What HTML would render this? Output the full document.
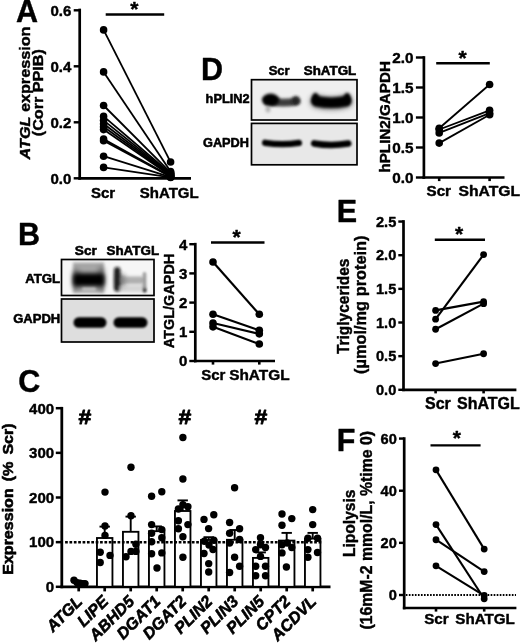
<!DOCTYPE html>
<html lang="en"><head><meta charset="utf-8"><title>Figure</title>
<style>html,body{margin:0;padding:0;background:#fff}body{width:520px;height:644px;overflow:hidden}svg{display:block;filter:blur(0.35px)}</style>
</head><body>
<svg width="520" height="644" viewBox="0 0 520 644" font-family='"Liberation Sans", sans-serif' font-weight="bold" fill="#000" stroke="#000" stroke-linecap="butt">
<defs><filter id="b1" filterUnits="userSpaceOnUse" x="0" y="0" width="520" height="644"><feGaussianBlur stdDeviation="1.6"/></filter><filter id="b2" filterUnits="userSpaceOnUse" x="0" y="0" width="520" height="644"><feGaussianBlur stdDeviation="2.6"/></filter><filter id="b4" filterUnits="userSpaceOnUse" x="0" y="0" width="520" height="644"><feGaussianBlur stdDeviation="1.9"/></filter><filter id="b3" filterUnits="userSpaceOnUse" x="0" y="0" width="520" height="644"><feGaussianBlur stdDeviation="1.1"/></filter><clipPath id="cB1"><rect x="61.5" y="259.5" width="92.5" height="36"/></clipPath><clipPath id="cB2"><rect x="61.5" y="299" width="92.5" height="43"/></clipPath><clipPath id="cD1"><rect x="251.5" y="79.7" width="105.5" height="40.3"/></clipPath><clipPath id="cD2"><rect x="251.5" y="123.4" width="105.5" height="41.4"/></clipPath></defs>
<rect x="0" y="0" width="520" height="644" fill="#fff" stroke="none"/>
<style>text{stroke:#000;stroke-width:0.42px;stroke-linejoin:round}circle{stroke:none}</style>
<text x="15.9" y="22.3" font-size="30.5" text-anchor="start">A</text>
<text x="18.0" y="245.3" font-size="30.5" text-anchor="start">B</text>
<text x="18.3" y="392.0" font-size="30.5" text-anchor="start">C</text>
<text x="201.0" y="79.7" font-size="30.5" text-anchor="start">D</text>
<text x="336.8" y="221.9" font-size="30.5" text-anchor="start">E</text>
<text x="336.7" y="451.2" font-size="30.5" text-anchor="start">F</text>
<line x1="79.7" y1="8.65" x2="79.7" y2="179.65" stroke-width="2.7" />
<line x1="78.35000000000001" y1="178.3" x2="191" y2="178.3" stroke-width="2.7" />
<line x1="73.7" y1="10.300000000000011" x2="79.7" y2="10.300000000000011" stroke-width="2.43" />
<text x="71.3" y="15.7" font-size="15" text-anchor="end">0.6</text>
<line x1="73.7" y1="66.30000000000001" x2="79.7" y2="66.30000000000001" stroke-width="2.43" />
<text x="71.3" y="71.7" font-size="15" text-anchor="end">0.4</text>
<line x1="73.7" y1="122.30000000000001" x2="79.7" y2="122.30000000000001" stroke-width="2.43" />
<text x="71.3" y="127.7" font-size="15" text-anchor="end">0.2</text>
<line x1="73.7" y1="178.3" x2="79.7" y2="178.3" stroke-width="2.43" />
<text x="71.3" y="183.7" font-size="15" text-anchor="end">0.0</text>
<line x1="103.6" y1="29.9" x2="170.6" y2="162.06" stroke-width="1.8" />
<line x1="103.6" y1="71.9" x2="170.6" y2="171.58" stroke-width="1.8" />
<line x1="103.6" y1="105.5" x2="170.6" y2="172.7" stroke-width="1.8" />
<line x1="103.6" y1="116.42" x2="170.6" y2="173.54" stroke-width="1.8" />
<line x1="103.6" y1="120.34" x2="170.6" y2="174.1" stroke-width="1.8" />
<line x1="103.6" y1="123.7" x2="170.6" y2="174.66" stroke-width="1.8" />
<line x1="103.6" y1="126.78" x2="170.6" y2="175.22" stroke-width="1.8" />
<line x1="103.6" y1="129.58" x2="170.6" y2="175.78" stroke-width="1.8" />
<line x1="103.6" y1="139.1" x2="170.6" y2="176.34" stroke-width="1.8" />
<line x1="103.6" y1="140.78" x2="170.6" y2="176.62" stroke-width="1.8" />
<line x1="103.6" y1="156.18" x2="170.6" y2="177.18" stroke-width="1.8" />
<line x1="103.6" y1="167.38" x2="170.6" y2="177.46" stroke-width="1.8" />
<circle cx="103.60" cy="29.90" r="3.8"/>
<circle cx="170.60" cy="162.06" r="3.8"/>
<circle cx="103.60" cy="71.90" r="3.8"/>
<circle cx="170.60" cy="171.58" r="3.8"/>
<circle cx="103.60" cy="105.50" r="3.8"/>
<circle cx="170.60" cy="172.70" r="3.8"/>
<circle cx="103.60" cy="116.42" r="3.8"/>
<circle cx="170.60" cy="173.54" r="3.8"/>
<circle cx="103.60" cy="120.34" r="3.8"/>
<circle cx="170.60" cy="174.10" r="3.8"/>
<circle cx="103.60" cy="123.70" r="3.8"/>
<circle cx="170.60" cy="174.66" r="3.8"/>
<circle cx="103.60" cy="126.78" r="3.8"/>
<circle cx="170.60" cy="175.22" r="3.8"/>
<circle cx="103.60" cy="129.58" r="3.8"/>
<circle cx="170.60" cy="175.78" r="3.8"/>
<circle cx="103.60" cy="139.10" r="3.8"/>
<circle cx="170.60" cy="176.34" r="3.8"/>
<circle cx="103.60" cy="140.78" r="3.8"/>
<circle cx="170.60" cy="176.62" r="3.8"/>
<circle cx="103.60" cy="156.18" r="3.8"/>
<circle cx="170.60" cy="177.18" r="3.8"/>
<circle cx="103.60" cy="167.38" r="3.8"/>
<circle cx="170.60" cy="177.46" r="3.8"/>
<line x1="105.7" y1="14.5" x2="164.2" y2="14.5" stroke-width="2.4" />
<text x="134.4" y="15.6" font-size="21" text-anchor="middle">*</text>
<text x="103.0" y="197.6" font-size="15" text-anchor="middle">Scr</text>
<text x="169.2" y="197.6" font-size="15" text-anchor="middle">ShATGL</text>
<text x="30.2" y="93.0" font-size="14.7" text-anchor="middle" textLength="133" lengthAdjust="spacingAndGlyphs" transform="rotate(-90 30.2 93.0)"><tspan font-style="italic">ATGL</tspan> expression</text>
<text x="43.0" y="92.7" font-size="14.7" text-anchor="middle" textLength="87" lengthAdjust="spacingAndGlyphs" transform="rotate(-90 43.0 92.7)">(Corr PPIB)</text>
<text x="85.8" y="255.3" font-size="13.7" text-anchor="middle" textLength="22" lengthAdjust="spacingAndGlyphs" style="stroke-width:0.55px">Scr</text>
<text x="132.8" y="255.3" font-size="13.7" text-anchor="middle" textLength="52.6" lengthAdjust="spacingAndGlyphs" style="stroke-width:0.55px">ShATGL</text>
<text x="60.2" y="283.0" font-size="13" text-anchor="end" textLength="35" lengthAdjust="spacingAndGlyphs" style="stroke-width:0.55px">ATGL</text>
<text x="60.2" y="323.0" font-size="13" text-anchor="end" textLength="47" lengthAdjust="spacingAndGlyphs" style="stroke-width:0.55px">GAPDH</text>
<rect x="61.5" y="259.5" width="92.5" height="36" fill="#f6f6f6" stroke="none"/>
<g clip-path="url(#cB1)" stroke="none"><rect x="73" y="262.5" width="31" height="30.5" fill="#707070" opacity="0.6" filter="url(#b1)"/><rect x="72.5" y="269" width="7" height="21" rx="3" fill="#000" opacity="0.32" filter="url(#b2)"/><rect x="98" y="267" width="7" height="24" rx="3" fill="#000" opacity="0.32" filter="url(#b2)"/><rect x="73" y="273.2" width="31.5" height="13" rx="4" fill="#000" filter="url(#b4)"/><rect x="82" y="287.6" width="14" height="3" rx="1.5" fill="#eee" opacity="0.5" filter="url(#b3)"/><rect x="114" y="267" width="6.4" height="24.5" rx="3.2" fill="#0c0c0c" opacity="0.92" filter="url(#b1)"/><rect x="116" y="274" width="9" height="13" rx="4" fill="#222" opacity="0.55" filter="url(#b2)"/><rect x="120" y="276.4" width="24" height="7.6" rx="3" fill="#808080" opacity="0.6" filter="url(#b1)"/><rect x="118" y="285" width="28" height="7" rx="3" fill="#b4b4b4" opacity="0.5" filter="url(#b1)"/><rect x="142.6" y="272" width="3.8" height="20" rx="1.9" fill="#808080" opacity="0.7" filter="url(#b3)"/><ellipse cx="144.8" cy="290.4" rx="1.8" ry="2.2" fill="#333" opacity="0.8" filter="url(#b3)"/></g>
<rect x="61.5" y="259.5" width="92.5" height="36" fill="none" stroke-width="1.7"/>
<rect x="61.5" y="299" width="92.5" height="43" fill="#dedede" stroke="none"/>
<g clip-path="url(#cB2)" stroke="none"><rect x="73.5" y="317.2" width="33" height="10.6" rx="5.3" fill="#000" filter="url(#b3)"/><rect x="113.5" y="317.2" width="34" height="10.6" rx="5.3" fill="#000" filter="url(#b3)"/></g>
<rect x="61.5" y="299" width="92.5" height="43" fill="none" stroke-width="1.7"/>
<line x1="195.3" y1="242.85" x2="195.3" y2="362.35" stroke-width="2.7" />
<line x1="193.95000000000002" y1="361.0" x2="275" y2="361.0" stroke-width="2.7" />
<line x1="189.3" y1="244.2" x2="195.3" y2="244.2" stroke-width="2.43" />
<text x="187.3" y="249.6" font-size="15" text-anchor="end">4</text>
<line x1="189.3" y1="273.4" x2="195.3" y2="273.4" stroke-width="2.43" />
<text x="187.3" y="278.8" font-size="15" text-anchor="end">3</text>
<line x1="189.3" y1="302.6" x2="195.3" y2="302.6" stroke-width="2.43" />
<text x="187.3" y="308.0" font-size="15" text-anchor="end">2</text>
<line x1="189.3" y1="331.8" x2="195.3" y2="331.8" stroke-width="2.43" />
<text x="187.3" y="337.2" font-size="15" text-anchor="end">1</text>
<line x1="189.3" y1="361.0" x2="195.3" y2="361.0" stroke-width="2.43" />
<text x="187.3" y="366.4" font-size="15" text-anchor="end">0</text>
<line x1="213.0" y1="361.0" x2="213.0" y2="364.6" stroke-width="2.6" />
<line x1="259.3" y1="361.0" x2="259.3" y2="364.6" stroke-width="2.6" />
<line x1="213.0" y1="262.01" x2="259.3" y2="314.28" stroke-width="2.2" />
<line x1="213.0" y1="314.28" x2="259.3" y2="330.34" stroke-width="2.2" />
<line x1="213.0" y1="323.04" x2="259.3" y2="333.84" stroke-width="2.2" />
<line x1="213.0" y1="326.84" x2="259.3" y2="344.06" stroke-width="2.2" />
<circle cx="213.00" cy="262.01" r="3.8"/>
<circle cx="259.30" cy="314.28" r="3.8"/>
<circle cx="213.00" cy="314.28" r="3.8"/>
<circle cx="259.30" cy="330.34" r="3.8"/>
<circle cx="213.00" cy="323.04" r="3.8"/>
<circle cx="259.30" cy="333.84" r="3.8"/>
<circle cx="213.00" cy="326.84" r="3.8"/>
<circle cx="259.30" cy="344.06" r="3.8"/>
<line x1="211" y1="242.5" x2="264.5" y2="242.5" stroke-width="2.4" />
<text x="236.5" y="244.0" font-size="21" text-anchor="middle">*</text>
<text x="213.3" y="379.6" font-size="15" text-anchor="middle">Scr</text>
<text x="259.4" y="379.6" font-size="15" text-anchor="middle" textLength="60.4" lengthAdjust="spacingAndGlyphs">ShATGL</text>
<text x="174.3" y="301.0" font-size="14.3" text-anchor="middle" textLength="94.6" lengthAdjust="spacingAndGlyphs" transform="rotate(-90 174.3 301.0)">ATGL/GAPDH</text>
<text x="279.2" y="74.6" font-size="13" text-anchor="middle" textLength="21" lengthAdjust="spacingAndGlyphs" style="stroke-width:0.55px">Scr</text>
<text x="330.0" y="74.6" font-size="13" text-anchor="middle" textLength="52.5" lengthAdjust="spacingAndGlyphs" style="stroke-width:0.55px">ShATGL</text>
<text x="249.6" y="102.6" font-size="13" text-anchor="end" textLength="44" lengthAdjust="spacingAndGlyphs" style="stroke-width:0.55px">hPLIN2</text>
<text x="249.0" y="147.2" font-size="13" text-anchor="end" textLength="46" lengthAdjust="spacingAndGlyphs" style="stroke-width:0.55px">GAPDH</text>
<rect x="251.5" y="79.7" width="105.5" height="40.3" fill="#efefef" stroke="none"/>
<g clip-path="url(#cD1)" fill="none" stroke-linecap="round"><path d="M268,101.2 Q284,104.2 296.6,101.2" stroke="#3a3a3a" stroke-width="7.8" filter="url(#b1)"/><ellipse cx="295.6" cy="100.6" rx="3.6" ry="4.6" fill="#1a1a1a" stroke="none" opacity="0.8" filter="url(#b1)"/><ellipse cx="270.6" cy="99.8" rx="8.6" ry="6.2" fill="#000" stroke="none" filter="url(#b1)"/><ellipse cx="268" cy="109" rx="2.4" ry="3.5" fill="#888" stroke="none" opacity="0.6" filter="url(#b1)"/><path d="M316.5,101.4 Q331,105.4 346,101.4" stroke="#444" stroke-width="13.5" opacity="0.55" filter="url(#b2)"/><path d="M316.5,101.2 Q331,104.2 346,101.2" stroke="#000" stroke-width="10.6" filter="url(#b1)"/><ellipse cx="315.4" cy="98.4" rx="3.4" ry="5.6" fill="#000" stroke="none" filter="url(#b1)"/><ellipse cx="347.2" cy="98.4" rx="3.4" ry="5.6" fill="#000" stroke="none" filter="url(#b1)"/></g>
<rect x="251.5" y="79.7" width="105.5" height="40.3" fill="none" stroke-width="1.7"/>
<rect x="251.5" y="123.4" width="105.5" height="41.4" fill="#e8e8e8" stroke="none"/>
<g clip-path="url(#cD2)" fill="none" stroke-linecap="round"><path d="M265.2,142.8 Q282,145.4 298.8,142.9" stroke="#050505" stroke-width="6.4" filter="url(#b3)"/><path d="M314.2,143.4 Q331,146.4 348.2,143.5" stroke="#050505" stroke-width="6.6" filter="url(#b3)"/></g>
<rect x="251.5" y="123.4" width="105.5" height="41.4" fill="none" stroke-width="1.7"/>
<line x1="423.9" y1="56.15" x2="423.9" y2="178.85" stroke-width="2.7" />
<line x1="422.54999999999995" y1="177.5" x2="504.5" y2="177.5" stroke-width="2.7" />
<line x1="415.9" y1="57.5" x2="423.9" y2="57.5" stroke-width="2.43" />
<text x="413.5" y="63.01" font-size="15.3" text-anchor="end">2.0</text>
<line x1="415.9" y1="87.5" x2="423.9" y2="87.5" stroke-width="2.43" />
<text x="413.5" y="93.01" font-size="15.3" text-anchor="end">1.5</text>
<line x1="415.9" y1="117.5" x2="423.9" y2="117.5" stroke-width="2.43" />
<text x="413.5" y="123.01" font-size="15.3" text-anchor="end">1.0</text>
<line x1="415.9" y1="147.5" x2="423.9" y2="147.5" stroke-width="2.43" />
<text x="413.5" y="153.01" font-size="15.3" text-anchor="end">0.5</text>
<line x1="415.9" y1="177.5" x2="423.9" y2="177.5" stroke-width="2.43" />
<text x="413.5" y="183.01" font-size="15.3" text-anchor="end">0.0</text>
<line x1="439.2" y1="177.5" x2="439.2" y2="181.1" stroke-width="2.6" />
<line x1="489.6" y1="177.5" x2="489.6" y2="181.1" stroke-width="2.6" />
<line x1="439.2" y1="128.3" x2="489.6" y2="84.5" stroke-width="1.85" />
<line x1="439.2" y1="129.5" x2="489.6" y2="110.3" stroke-width="1.85" />
<line x1="439.2" y1="132.98" x2="489.6" y2="113.18" stroke-width="1.85" />
<line x1="439.2" y1="143.12" x2="489.6" y2="114.8" stroke-width="1.85" />
<circle cx="439.20" cy="128.30" r="3.8"/>
<circle cx="489.60" cy="84.50" r="3.8"/>
<circle cx="439.20" cy="129.50" r="3.8"/>
<circle cx="489.60" cy="110.30" r="3.8"/>
<circle cx="439.20" cy="132.98" r="3.8"/>
<circle cx="489.60" cy="113.18" r="3.8"/>
<circle cx="439.20" cy="143.12" r="3.8"/>
<circle cx="489.60" cy="114.80" r="3.8"/>
<line x1="436.2" y1="63.2" x2="489.8" y2="63.2" stroke-width="2.4" />
<text x="462.6" y="64.6" font-size="21" text-anchor="middle">*</text>
<text x="438.8" y="196.3" font-size="15.2" text-anchor="middle">Scr</text>
<text x="458.4" y="196.3" font-size="15.2" text-anchor="start" textLength="61.8" lengthAdjust="spacingAndGlyphs">ShATGL</text>
<text x="389.6" y="116.8" font-size="14.2" text-anchor="middle" textLength="111.6" lengthAdjust="spacingAndGlyphs" transform="rotate(-90 389.6 116.8)">hPLIN2/GAPDH</text>
<line x1="403.5" y1="220.15" x2="403.5" y2="391.15000000000003" stroke-width="2.7" />
<line x1="402.15" y1="389.8" x2="516.4" y2="389.8" stroke-width="2.7" />
<line x1="398.3" y1="221.55" x2="403.5" y2="221.55" stroke-width="2.43" />
<text x="396.3" y="226.81" font-size="14.6" text-anchor="end">2.5</text>
<line x1="398.3" y1="255.20000000000002" x2="403.5" y2="255.20000000000002" stroke-width="2.43" />
<text x="396.3" y="260.46" font-size="14.6" text-anchor="end">2.0</text>
<line x1="398.3" y1="288.85" x2="403.5" y2="288.85" stroke-width="2.43" />
<text x="396.3" y="294.11" font-size="14.6" text-anchor="end">1.5</text>
<line x1="398.3" y1="322.5" x2="403.5" y2="322.5" stroke-width="2.43" />
<text x="396.3" y="327.76" font-size="14.6" text-anchor="end">1.0</text>
<line x1="398.3" y1="356.15000000000003" x2="403.5" y2="356.15000000000003" stroke-width="2.43" />
<text x="396.3" y="361.41" font-size="14.6" text-anchor="end">0.5</text>
<line x1="398.3" y1="389.8" x2="403.5" y2="389.8" stroke-width="2.43" />
<text x="396.3" y="395.06" font-size="14.6" text-anchor="end">0.0</text>
<line x1="435.6" y1="389.8" x2="435.6" y2="393.40000000000003" stroke-width="2.6" />
<line x1="483.6" y1="389.8" x2="483.6" y2="393.40000000000003" stroke-width="2.6" />
<line x1="435.6" y1="310.39" x2="483.6" y2="301.64" stroke-width="2.15" />
<line x1="435.6" y1="319.13" x2="483.6" y2="254.53" stroke-width="2.15" />
<line x1="435.6" y1="329.23" x2="483.6" y2="303.66" stroke-width="2.15" />
<line x1="435.6" y1="363.55" x2="483.6" y2="353.73" stroke-width="2.15" />
<circle cx="435.60" cy="310.39" r="3.4"/>
<circle cx="483.60" cy="301.64" r="3.4"/>
<circle cx="435.60" cy="319.13" r="3.4"/>
<circle cx="483.60" cy="254.53" r="3.4"/>
<circle cx="435.60" cy="329.23" r="3.4"/>
<circle cx="483.60" cy="303.66" r="3.4"/>
<circle cx="435.60" cy="363.55" r="3.4"/>
<circle cx="483.60" cy="353.73" r="3.4"/>
<line x1="434.8" y1="239.7" x2="485" y2="239.7" stroke-width="2.4" />
<text x="459.2" y="240.8" font-size="21" text-anchor="middle">*</text>
<text x="437.9" y="408.7" font-size="16" text-anchor="middle">Scr</text>
<text x="457.0" y="408.7" font-size="16" text-anchor="start">ShATGL</text>
<text x="349.4" y="306.3" font-size="15.8" text-anchor="middle" textLength="95.5" lengthAdjust="spacingAndGlyphs" transform="rotate(-90 349.4 306.3)">Triglycerides</text>
<text x="366.4" y="304.7" font-size="15.8" text-anchor="middle" textLength="138.5" lengthAdjust="spacingAndGlyphs" transform="rotate(-90 366.4 304.7)">(µmol/mg protein)</text>
<line x1="404.2" y1="437.25" x2="404.2" y2="609.35" stroke-width="2.7" />
<line x1="402.84999999999997" y1="608.0" x2="516.4" y2="608.0" stroke-width="2.7" />
<line x1="399.0" y1="438.58" x2="404.2" y2="438.58" stroke-width="2.43" />
<text x="396.8" y="443.84" font-size="14.6" text-anchor="end">60</text>
<line x1="399.0" y1="490.72" x2="404.2" y2="490.72" stroke-width="2.43" />
<text x="396.8" y="495.98" font-size="14.6" text-anchor="end">40</text>
<line x1="399.0" y1="542.86" x2="404.2" y2="542.86" stroke-width="2.43" />
<text x="396.8" y="548.12" font-size="14.6" text-anchor="end">20</text>
<line x1="399.0" y1="595.0" x2="404.2" y2="595.0" stroke-width="2.43" />
<text x="396.8" y="600.26" font-size="14.6" text-anchor="end">0</text>
<line x1="436.0" y1="608.0" x2="436.0" y2="611.6" stroke-width="2.6" />
<line x1="484.2" y1="608.0" x2="484.2" y2="611.6" stroke-width="2.6" />
<line x1="405.8" y1="595.0" x2="516" y2="595.0" stroke-width="2.1" stroke-dasharray="1.65 1.38"/>
<line x1="436.0" y1="469.86" x2="484.2" y2="549.12" stroke-width="2.1" />
<line x1="436.0" y1="524.61" x2="484.2" y2="598.78" stroke-width="2.1" />
<line x1="436.0" y1="539.73" x2="484.2" y2="571.54" stroke-width="2.1" />
<line x1="436.0" y1="565.8" x2="484.2" y2="595.52" stroke-width="2.1" />
<circle cx="436.00" cy="469.86" r="3.4"/>
<circle cx="484.20" cy="549.12" r="3.4"/>
<circle cx="436.00" cy="524.61" r="3.4"/>
<circle cx="484.20" cy="598.78" r="3.4"/>
<circle cx="436.00" cy="539.73" r="3.4"/>
<circle cx="484.20" cy="571.54" r="3.4"/>
<circle cx="436.00" cy="565.80" r="3.4"/>
<circle cx="484.20" cy="595.52" r="3.4"/>
<line x1="430.5" y1="445.4" x2="480.6" y2="445.4" stroke-width="2.4" />
<text x="456.8" y="445.2" font-size="21" text-anchor="middle">*</text>
<text x="436.4" y="624.4" font-size="15.2" text-anchor="middle">Scr</text>
<text x="485.1" y="624.4" font-size="15.2" text-anchor="middle">ShATGL</text>
<text x="354.9" y="523.3" font-size="15.6" text-anchor="middle" textLength="67.6" lengthAdjust="spacingAndGlyphs" transform="rotate(-90 354.9 523.3)">Lipolysis</text>
<text x="372.2" y="530.3" font-size="15.6" text-anchor="middle" textLength="198.6" lengthAdjust="spacingAndGlyphs" transform="rotate(-90 372.2 530.3)">(16mM-2 mmol/L, %time 0)</text>
<line x1="61.8" y1="406.9" x2="61.8" y2="588.1999999999999" stroke-width="2.8" />
<line x1="60.4" y1="586.8" x2="330.5" y2="586.8" stroke-width="2.8" />
<line x1="55.8" y1="408.19999999999993" x2="61.8" y2="408.19999999999993" stroke-width="2.5" />
<text x="54.099999999999994" y="413.5" font-size="15" text-anchor="end">400</text>
<line x1="55.8" y1="452.84999999999997" x2="61.8" y2="452.84999999999997" stroke-width="2.5" />
<text x="54.099999999999994" y="458.15" font-size="15" text-anchor="end">300</text>
<line x1="55.8" y1="497.49999999999994" x2="61.8" y2="497.49999999999994" stroke-width="2.5" />
<text x="54.099999999999994" y="502.8" font-size="15" text-anchor="end">200</text>
<line x1="55.8" y1="542.15" x2="61.8" y2="542.15" stroke-width="2.5" />
<text x="54.099999999999994" y="547.45" font-size="15" text-anchor="end">100</text>
<line x1="55.8" y1="586.8" x2="61.8" y2="586.8" stroke-width="2.5" />
<text x="54.099999999999994" y="592.1" font-size="15" text-anchor="end">0</text>
<line x1="78.7" y1="586.8" x2="78.7" y2="591.4" stroke-width="2.7" />
<line x1="104.7" y1="586.8" x2="104.7" y2="591.4" stroke-width="2.7" />
<line x1="130.7" y1="586.8" x2="130.7" y2="591.4" stroke-width="2.7" />
<line x1="156.7" y1="586.8" x2="156.7" y2="591.4" stroke-width="2.7" />
<line x1="182.7" y1="586.8" x2="182.7" y2="591.4" stroke-width="2.7" />
<line x1="208.7" y1="586.8" x2="208.7" y2="591.4" stroke-width="2.7" />
<line x1="234.7" y1="586.8" x2="234.7" y2="591.4" stroke-width="2.7" />
<line x1="260.7" y1="586.8" x2="260.7" y2="591.4" stroke-width="2.7" />
<line x1="286.7" y1="586.8" x2="286.7" y2="591.4" stroke-width="2.7" />
<line x1="312.7" y1="586.8" x2="312.7" y2="591.4" stroke-width="2.7" />
<rect x="96.95" y="538.0" width="15.5" height="48.80" fill="#fff" stroke-width="1.85"/>
<line x1="104.7" y1="526.6" x2="104.7" y2="538.0" stroke-width="1.9" />
<line x1="99.5" y1="526.6" x2="109.9" y2="526.6" stroke-width="1.9" />
<rect x="122.95" y="531.8" width="15.5" height="55.00" fill="#fff" stroke-width="1.85"/>
<line x1="130.7" y1="516.6" x2="130.7" y2="531.8" stroke-width="1.9" />
<line x1="125.49999999999999" y1="516.6" x2="135.89999999999998" y2="516.6" stroke-width="1.9" />
<rect x="148.95" y="531.2" width="15.5" height="55.60" fill="#fff" stroke-width="1.85"/>
<line x1="156.7" y1="526.4" x2="156.7" y2="531.2" stroke-width="1.9" />
<line x1="151.5" y1="526.4" x2="161.89999999999998" y2="526.4" stroke-width="1.9" />
<rect x="174.95" y="511.0" width="15.5" height="75.80" fill="#fff" stroke-width="1.85"/>
<line x1="182.7" y1="500.4" x2="182.7" y2="511.0" stroke-width="1.9" />
<line x1="177.5" y1="500.4" x2="187.89999999999998" y2="500.4" stroke-width="1.9" />
<rect x="200.95" y="540.0" width="15.5" height="46.80" fill="#fff" stroke-width="1.85"/>
<line x1="208.7" y1="537.2" x2="208.7" y2="540.0" stroke-width="1.9" />
<line x1="203.5" y1="537.2" x2="213.89999999999998" y2="537.2" stroke-width="1.9" />
<rect x="226.95" y="539.8" width="15.5" height="47.00" fill="#fff" stroke-width="1.85"/>
<line x1="234.7" y1="530.0" x2="234.7" y2="539.8" stroke-width="1.9" />
<line x1="229.5" y1="530.0" x2="239.89999999999998" y2="530.0" stroke-width="1.9" />
<rect x="252.95" y="557.9" width="15.5" height="28.90" fill="#fff" stroke-width="1.85"/>
<line x1="260.7" y1="552.4" x2="260.7" y2="557.9" stroke-width="1.9" />
<line x1="255.5" y1="552.4" x2="265.9" y2="552.4" stroke-width="1.9" />
<rect x="278.95" y="540.6" width="15.5" height="46.20" fill="#fff" stroke-width="1.85"/>
<line x1="286.7" y1="532.9" x2="286.7" y2="540.6" stroke-width="1.9" />
<line x1="281.5" y1="532.9" x2="291.9" y2="532.9" stroke-width="1.9" />
<rect x="304.95" y="538.6" width="15.5" height="48.20" fill="#fff" stroke-width="1.85"/>
<line x1="312.7" y1="532.9" x2="312.7" y2="538.6" stroke-width="1.9" />
<line x1="307.5" y1="532.9" x2="317.9" y2="532.9" stroke-width="1.9" />
<line x1="65.1" y1="542.2" x2="322.5" y2="542.2" stroke-width="2.6" stroke-dasharray="2.7 1.67"/>
<circle cx="74.00" cy="580.20" r="3.7"/>
<circle cx="77.00" cy="582.60" r="3.7"/>
<circle cx="80.00" cy="583.20" r="3.7"/>
<circle cx="82.80" cy="583.60" r="3.7"/>
<circle cx="85.00" cy="583.60" r="3.7"/>
<circle cx="105.00" cy="492.10" r="3.7"/>
<circle cx="105.00" cy="526.00" r="3.7"/>
<circle cx="105.00" cy="535.40" r="3.7"/>
<circle cx="100.20" cy="552.30" r="3.7"/>
<circle cx="110.00" cy="555.40" r="3.7"/>
<circle cx="100.20" cy="562.50" r="3.7"/>
<circle cx="131.00" cy="467.20" r="3.7"/>
<circle cx="131.00" cy="515.70" r="3.7"/>
<circle cx="135.90" cy="544.30" r="3.7"/>
<circle cx="131.00" cy="551.40" r="3.7"/>
<circle cx="135.90" cy="551.40" r="3.7"/>
<circle cx="126.00" cy="556.80" r="3.7"/>
<circle cx="161.80" cy="491.80" r="3.7"/>
<circle cx="151.60" cy="496.20" r="3.7"/>
<circle cx="151.60" cy="524.60" r="3.7"/>
<circle cx="161.80" cy="529.60" r="3.7"/>
<circle cx="151.60" cy="533.20" r="3.7"/>
<circle cx="161.80" cy="537.70" r="3.7"/>
<circle cx="151.60" cy="541.80" r="3.7"/>
<circle cx="151.60" cy="553.70" r="3.7"/>
<circle cx="161.80" cy="552.90" r="3.7"/>
<circle cx="157.00" cy="568.00" r="3.7"/>
<circle cx="182.90" cy="437.50" r="3.7"/>
<circle cx="182.90" cy="479.00" r="3.7"/>
<circle cx="178.40" cy="509.00" r="3.7"/>
<circle cx="187.90" cy="506.80" r="3.7"/>
<circle cx="182.90" cy="504.80" r="3.7"/>
<circle cx="178.40" cy="520.70" r="3.7"/>
<circle cx="187.90" cy="524.60" r="3.7"/>
<circle cx="178.40" cy="528.70" r="3.7"/>
<circle cx="182.90" cy="536.80" r="3.7"/>
<circle cx="182.90" cy="557.30" r="3.7"/>
<circle cx="213.80" cy="514.80" r="3.7"/>
<circle cx="204.00" cy="519.40" r="3.7"/>
<circle cx="208.60" cy="528.60" r="3.7"/>
<circle cx="204.40" cy="541.30" r="3.7"/>
<circle cx="213.80" cy="540.20" r="3.7"/>
<circle cx="209.00" cy="545.00" r="3.7"/>
<circle cx="204.00" cy="553.50" r="3.7"/>
<circle cx="213.00" cy="549.50" r="3.7"/>
<circle cx="208.70" cy="563.60" r="3.7"/>
<circle cx="208.70" cy="572.00" r="3.7"/>
<circle cx="234.60" cy="487.70" r="3.7"/>
<circle cx="229.60" cy="522.50" r="3.7"/>
<circle cx="239.60" cy="528.70" r="3.7"/>
<circle cx="229.60" cy="533.20" r="3.7"/>
<circle cx="239.60" cy="539.50" r="3.7"/>
<circle cx="229.60" cy="543.00" r="3.7"/>
<circle cx="234.60" cy="557.30" r="3.7"/>
<circle cx="239.60" cy="566.20" r="3.7"/>
<circle cx="229.60" cy="572.50" r="3.7"/>
<circle cx="260.50" cy="537.70" r="3.7"/>
<circle cx="260.50" cy="544.80" r="3.7"/>
<circle cx="265.50" cy="547.50" r="3.7"/>
<circle cx="255.70" cy="549.60" r="3.7"/>
<circle cx="260.50" cy="556.40" r="3.7"/>
<circle cx="255.70" cy="566.20" r="3.7"/>
<circle cx="265.50" cy="566.20" r="3.7"/>
<circle cx="255.70" cy="575.70" r="3.7"/>
<circle cx="265.50" cy="575.70" r="3.7"/>
<circle cx="282.00" cy="514.00" r="3.7"/>
<circle cx="291.80" cy="518.60" r="3.7"/>
<circle cx="282.00" cy="525.20" r="3.7"/>
<circle cx="282.00" cy="544.80" r="3.7"/>
<circle cx="287.30" cy="543.00" r="3.7"/>
<circle cx="291.80" cy="547.50" r="3.7"/>
<circle cx="282.00" cy="552.90" r="3.7"/>
<circle cx="286.40" cy="567.00" r="3.7"/>
<circle cx="312.70" cy="509.60" r="3.7"/>
<circle cx="312.70" cy="524.60" r="3.7"/>
<circle cx="307.90" cy="538.20" r="3.7"/>
<circle cx="317.50" cy="538.20" r="3.7"/>
<circle cx="307.90" cy="549.60" r="3.7"/>
<circle cx="317.50" cy="552.50" r="3.7"/>
<circle cx="307.90" cy="557.30" r="3.7"/>
<text x="85.0" y="424.2" font-size="20.5" text-anchor="middle" textLength="12.8" lengthAdjust="spacingAndGlyphs" style="stroke-width:0.8px">#</text>
<text x="185.0" y="424.2" font-size="20.5" text-anchor="middle" textLength="12.8" lengthAdjust="spacingAndGlyphs" style="stroke-width:0.8px">#</text>
<text x="261.0" y="424.2" font-size="20.5" text-anchor="middle" textLength="12.8" lengthAdjust="spacingAndGlyphs" style="stroke-width:0.8px">#</text>
<text x="83.3" y="602.4" font-size="16.2" text-anchor="end" transform="rotate(-45 83.3 602.4)" font-style="italic" style="stroke-width:0.6px">ATGL</text>
<text x="109.3" y="602.4" font-size="16.2" text-anchor="end" transform="rotate(-45 109.3 602.4)" font-style="italic" style="stroke-width:0.6px">LIPE</text>
<text x="135.3" y="602.4" font-size="16.2" text-anchor="end" transform="rotate(-45 135.3 602.4)" font-style="italic" style="stroke-width:0.6px">ABHD5</text>
<text x="161.3" y="602.4" font-size="16.2" text-anchor="end" transform="rotate(-45 161.3 602.4)" font-style="italic" style="stroke-width:0.6px">DGAT1</text>
<text x="187.3" y="602.4" font-size="16.2" text-anchor="end" transform="rotate(-45 187.3 602.4)" font-style="italic" style="stroke-width:0.6px">DGAT2</text>
<text x="213.3" y="602.4" font-size="16.2" text-anchor="end" transform="rotate(-45 213.3 602.4)" font-style="italic" style="stroke-width:0.6px">PLIN2</text>
<text x="239.3" y="602.4" font-size="16.2" text-anchor="end" transform="rotate(-45 239.3 602.4)" font-style="italic" style="stroke-width:0.6px">PLIN3</text>
<text x="265.3" y="602.4" font-size="16.2" text-anchor="end" transform="rotate(-45 265.3 602.4)" font-style="italic" style="stroke-width:0.6px">PLIN5</text>
<text x="291.3" y="602.4" font-size="16.2" text-anchor="end" transform="rotate(-45 291.3 602.4)" font-style="italic" style="stroke-width:0.6px">CPT2</text>
<text x="317.3" y="602.4" font-size="16.2" text-anchor="end" transform="rotate(-45 317.3 602.4)" font-style="italic" style="stroke-width:0.6px">ACDVL</text>
<text x="12.8" y="499.1" font-size="15.5" text-anchor="middle" textLength="151.4" lengthAdjust="spacingAndGlyphs" transform="rotate(-90 12.8 499.1)" style="stroke-width:0.6px;word-spacing:2.5px">Expression (% Scr)</text>
</svg></body></html>
